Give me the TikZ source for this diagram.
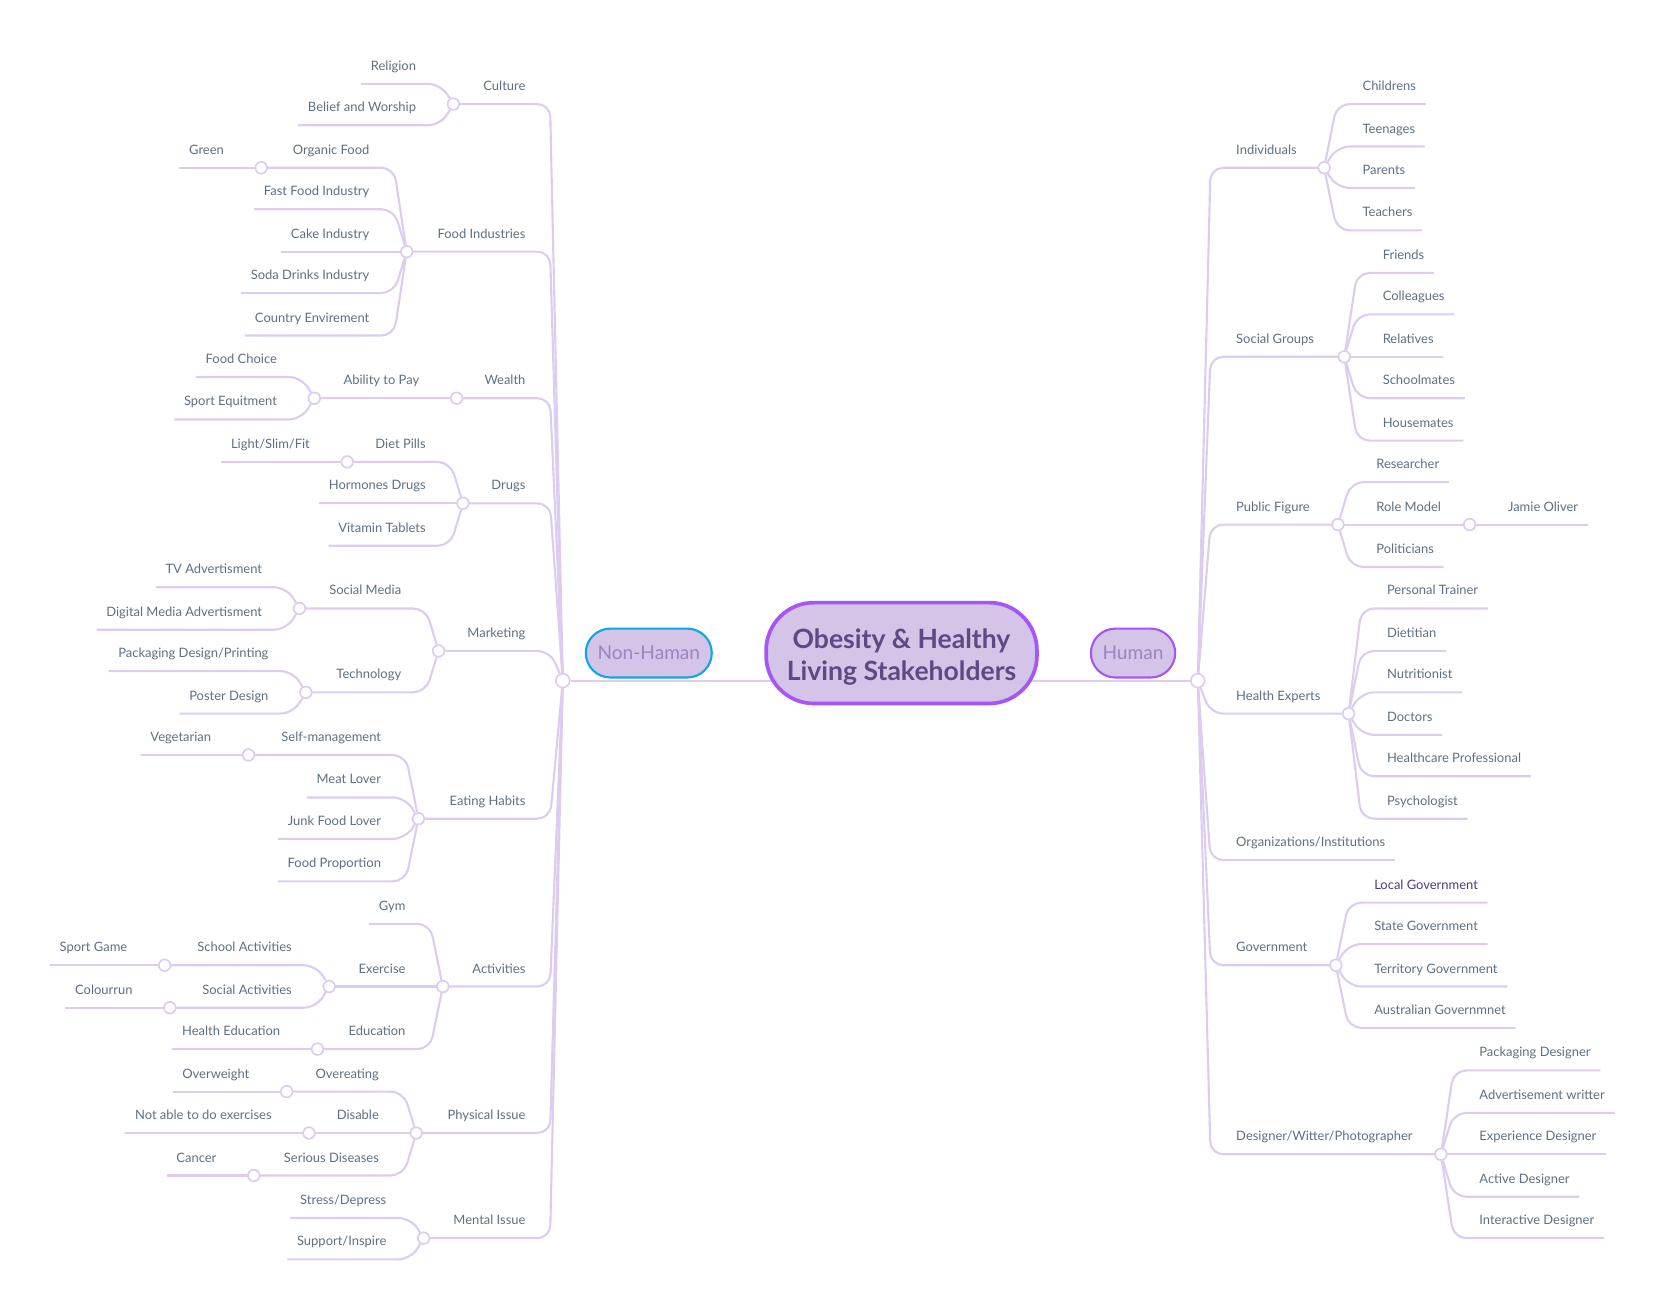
\documentclass[tikz,border=0pt]{standalone}
\usepackage{fontspec}
\setmainfont{Lato}
\usetikzlibrary{calc, backgrounds, positioning}
\definecolor{lav}{HTML}{DCCDF0}
\definecolor{txt}{HTML}{5F6F7F}
\definecolor{pillfill}{HTML}{D4C4E7}
\definecolor{purp}{HTML}{A855F7}
\definecolor{cyanb}{HTML}{0EA5E9}
\definecolor{pilltxt}{HTML}{9A86BC}
\definecolor{hubtxt}{HTML}{5B4A84}
\definecolor{localc}{HTML}{4E3A78}

\begin{document}
\begin{tikzpicture}[
  x=1pt, y=-1pt,
  lbl/.style={font=\fontsize{12.2}{15}\selectfont, text=txt, inner xsep=9pt, inner ysep=0pt,
              text height=9pt, text depth=12.5pt},
  ltx/.style={lbl, anchor=south east},
  rtx/.style={lbl, anchor=south west},
  dot/.style={circle, draw=lav, fill=white, line width=1.6pt, minimum size=11pt, inner sep=0pt},
  link/.style={draw=lav, line width=2pt},
  tol/.style={to path={let \p1=(\tikztostart), \p2=(\tikztotarget) in
              [rounded corners=12pt] -- (\x1-12pt,\y2) -- (\p2)}},
  tor/.style={to path={let \p1=(\tikztostart), \p2=(\tikztotarget) in
              [rounded corners=12pt] -- (\x1+12pt,\y2) -- (\p2)}},
  pill/.style={rectangle, rounded corners=23pt, minimum height=46pt, fill=pillfill, line width=2pt,
               font=\fontsize{18}{20}\selectfont, text=pilltxt, inner xsep=11pt},
  hub/.style={rectangle, rounded corners=45pt, minimum width=255pt, minimum height=95pt, fill=pillfill,
              draw=purp, line width=3.5pt, align=center, text=hubtxt, text height=56pt,
              font=\fontsize{25}{30}\selectfont\bfseries}
]
\useasboundingbox (0,0) rectangle (1568,1232);

% centre
\node[hub] (hub) at (849,615) {Obesity \& Healthy\\Living Stakeholders};
\node[pill, draw=cyanb] (nonh) at (611,615) {Non-Haman};
\node[pill, draw=purp] (hum) at (1067,615) {Human};
\node[dot, minimum size=13pt] (lj) at (530,641) {};
\node[dot, minimum size=13pt] (rj) at (1128,641) {};

% left: culture
\node[dot] (cul) at (427,98) {};
\node[ltx] (culT) at (504,98) {Culture};
\node[ltx] (rel) at (401,79) {Religion};
\node[ltx] (bel) at (401,118) {Belief and Worship};

% left: food industries
\node[dot] (food) at (383,237) {};
\node[ltx] (foodT) at (504,237) {Food Industries};
\node[dot] (orgf) at (246,158) {};
\node[ltx] (orgfT) at (357,158) {Organic Food};
\node[ltx] (grn) at (220,158) {Green};
\node[ltx] (fast) at (357,197) {Fast Food Industry};
\node[ltx] (cake) at (357,237) {Cake Industry};
\node[ltx] (soda) at (357,276) {Soda Drinks Industry};
\node[ltx] (ctry) at (357,316) {Country Envirement};

% left: wealth
\node[dot] (wlth) at (430,375) {};
\node[ltx] (wlthT) at (504,375) {Wealth};
\node[dot] (abil) at (296,375) {};
\node[ltx] (abilT) at (404,375) {Ability to Pay};
\node[ltx] (fch) at (270,355) {Food Choice};
\node[ltx] (speq) at (270,395) {Sport Equitment};

% left: drugs
\node[dot] (drug) at (436,474) {};
\node[ltx] (drugT) at (504,474) {Drugs};
\node[dot] (diet) at (327,435) {};
\node[ltx] (dietT) at (410,435) {Diet Pills};
\node[ltx] (lsf) at (301,435) {Light/Slim/Fit};
\node[ltx] (horm) at (410,474) {Hormones Drugs};
\node[ltx] (vit) at (410,514) {Vitamin Tablets};

% left: marketing
\node[dot] (mkt) at (413,613) {};
\node[ltx] (mktT) at (504,613) {Marketing};
\node[dot] (smed) at (282,573) {};
\node[ltx] (smedT) at (387,573) {Social Media};
\node[ltx] (tvad) at (256,553) {TV Advertisment};
\node[ltx] (dmad) at (256,593) {Digital Media Advertisment};
\node[dot] (tech) at (288,652) {};
\node[ltx] (techT) at (387,652) {Technology};
\node[ltx] (pkdp) at (262,632) {Packaging Design/Printing};
\node[ltx] (post) at (262,672) {Poster Design};

% left: eating habits
\node[dot] (eat) at (394,771) {};
\node[ltx] (eatT) at (504,771) {Eating Habits};
\node[dot] (self) at (234,711) {};
\node[ltx] (selfT) at (368,711) {Self-management};
\node[ltx] (veg) at (208,711) {Vegetarian};
\node[ltx] (meat) at (368,751) {Meat Lover};
\node[ltx] (junk) at (368,790) {Junk Food Lover};
\node[ltx] (fprop) at (368,830) {Food Proportion};

% left: activities
\node[dot] (act) at (417,929) {};
\node[ltx] (actT) at (504,929) {Activities};
\node[ltx] (gym) at (391,870) {Gym};
\node[dot] (exer) at (310,929) {};
\node[ltx] (exerT) at (391,929) {Exercise};
\node[dot] (schl) at (155,909) {};
\node[ltx] (schlT) at (284,909) {School Activities};
\node[ltx] (spg) at (129,909) {Sport Game};
\node[dot] (soca) at (160,949) {};
\node[ltx] (socaT) at (284,949) {Social Activities};
\node[ltx] (colr) at (134,949) {Colourrun};
\node[dot] (edu) at (299,988) {};
\node[ltx] (eduT) at (391,988) {Education};
\node[ltx] (hedu) at (273,988) {Health Education};

% left: physical issue
\node[dot] (phys) at (392,1067) {};
\node[ltx] (physT) at (504,1067) {Physical Issue};
\node[dot] (overe) at (270,1028) {};
\node[ltx] (overeT) at (366,1028) {Overeating};
\node[ltx] (overw) at (244,1028) {Overweight};
\node[dot] (dis) at (291,1067) {};
\node[ltx] (disT) at (366,1067) {Disable};
\node[ltx] (nabl) at (265,1067) {Not able to do exercises};
\node[dot] (ser) at (239,1107) {};
\node[ltx] (serT) at (366,1107) {Serious Diseases};
\node[ltx] (canc) at (213,1107) {Cancer};

% left: mental issue
\node[dot] (ment) at (399,1166) {};
\node[ltx] (mentT) at (504,1166) {Mental Issue};
\node[ltx] (strs) at (373,1147) {Stress/Depress};
\node[ltx] (supp) at (373,1186) {Support/Inspire};

% right: individuals
\node[dot] (ind) at (1247,158) {};
\node[rtx] (indT) at (1155,158) {Individuals};
\node[rtx] (chil) at (1274,98) {Childrens};
\node[rtx] (teen) at (1274,138) {Teenages};
\node[rtx] (par) at (1274,177) {Parents};
\node[rtx] (tchr) at (1274,217) {Teachers};

% right: social groups
\node[dot] (soc) at (1266,336) {};
\node[rtx] (socT) at (1155,336) {Social Groups};
\node[rtx] (frnd) at (1293,257) {Friends};
\node[rtx] (coll) at (1293,296) {Colleagues};
\node[rtx] (relv) at (1293,336) {Relatives};
\node[rtx] (schm) at (1293,375) {Schoolmates};
\node[rtx] (hsm) at (1293,415) {Housemates};

% right: public figure
\node[dot] (pub) at (1260,494) {};
\node[rtx] (pubT) at (1155,494) {Public Figure};
\node[rtx] (rsch) at (1287,454) {Researcher};
\node[dot] (role) at (1384,494) {};
\node[rtx] (roleT) at (1287,494) {Role Model};
\node[rtx] (jamie) at (1411,494) {Jamie Oliver};
\node[rtx] (polt) at (1287,534) {Politicians};

% right: health experts
\node[dot] (hexp) at (1270,672) {};
\node[rtx] (hexpT) at (1155,672) {Health Experts};
\node[rtx] (ptr) at (1297,573) {Personal Trainer};
\node[rtx] (dtn) at (1297,613) {Dietitian};
\node[rtx] (nutr) at (1297,652) {Nutritionist};
\node[rtx] (doc) at (1297,692) {Doctors};
\node[rtx] (hcp) at (1297,731) {Healthcare Professional};
\node[rtx] (psy) at (1297,771) {Psychologist};

% right: organizations
\node[rtx] (orgi) at (1155,810) {Organizations/Institutions};

% right: government
\node[dot] (gov) at (1258,909) {};
\node[rtx] (govT) at (1155,909) {Government};
\node[rtx, text=localc] (locg) at (1285,850) {Local Government};
\node[rtx] (stg) at (1285,889) {State Government};
\node[rtx] (terg) at (1285,929) {Territory Government};
\node[rtx] (ausg) at (1285,968) {Australian Governmnet};

% right: designers
\node[dot] (des) at (1357,1087) {};
\node[rtx] (desT) at (1155,1087) {Designer/Witter/Photographer};
\node[rtx] (pkd) at (1384,1008) {Packaging Designer};
\node[rtx] (advw) at (1384,1048) {Advertisement writter};
\node[rtx] (expd) at (1384,1087) {Experience Designer};
\node[rtx] (actd) at (1384,1127) {Active Designer};
\node[rtx] (intd) at (1384,1166) {Interactive Designer};

\begin{scope}[on background layer]
\draw[link] (lj) -- (hub.center |- lj);
\draw[link] (rj) -- (hub.center |- rj);
% left connectors
\draw[link,tol] (lj) to (cul);
\draw[link,tol] (cul) to (rel.south west);
\draw[link,tol] (cul) to (bel.south west);
\draw[link,tol] (lj) to (food);
\draw[link,tol] (food) to (orgf);
\draw[link,tol] (orgf) to (grn.south west);
\draw[link,tol] (food) to (fast.south west);
\draw[link,tol] (food) to (cake.south west);
\draw[link,tol] (food) to (soda.south west);
\draw[link,tol] (food) to (ctry.south west);
\draw[link,tol] (lj) to (wlth);
\draw[link,tol] (wlth) to (abil);
\draw[link,tol] (abil) to (fch.south west);
\draw[link,tol] (abil) to (speq.south west);
\draw[link,tol] (lj) to (drug);
\draw[link,tol] (drug) to (diet);
\draw[link,tol] (diet) to (lsf.south west);
\draw[link,tol] (drug) to (horm.south west);
\draw[link,tol] (drug) to (vit.south west);
\draw[link,tol] (lj) to (mkt);
\draw[link,tol] (mkt) to (smed);
\draw[link,tol] (smed) to (tvad.south west);
\draw[link,tol] (smed) to (dmad.south west);
\draw[link,tol] (mkt) to (tech);
\draw[link,tol] (tech) to (pkdp.south west);
\draw[link,tol] (tech) to (post.south west);
\draw[link,tol] (lj) to (eat);
\draw[link,tol] (eat) to (self);
\draw[link,tol] (self) to (veg.south west);
\draw[link,tol] (eat) to (meat.south west);
\draw[link,tol] (eat) to (junk.south west);
\draw[link,tol] (eat) to (fprop.south west);
\draw[link,tol] (lj) to (act);
\draw[link,tol] (act) to (gym.south west);
\draw[link,tol] (act) to (exer);
\draw[link,tol] (exer) to (schl);
\draw[link,tol] (schl) to (spg.south west);
\draw[link,tol] (exer) to (soca);
\draw[link,tol] (soca) to (colr.south west);
\draw[link,tol] (act) to (edu);
\draw[link,tol] (edu) to (hedu.south west);
\draw[link,tol] (lj) to (phys);
\draw[link,tol] (phys) to (overe);
\draw[link,tol] (overe) to (overw.south west);
\draw[link,tol] (phys) to (dis);
\draw[link,tol] (dis) to (nabl.south west);
\draw[link,tol] (phys) to (ser);
\draw[link,tol] (ser) to (canc.south west);
\draw[link,tol] (lj) to (ment);
\draw[link,tol] (ment) to (strs.south west);
\draw[link,tol] (ment) to (supp.south west);
% right connectors
\draw[link,tor] (rj) to (ind);
\draw[link,tor] (ind) to (chil.south east);
\draw[link,tor] (ind) to (teen.south east);
\draw[link,tor] (ind) to (par.south east);
\draw[link,tor] (ind) to (tchr.south east);
\draw[link,tor] (rj) to (soc);
\draw[link,tor] (soc) to (frnd.south east);
\draw[link,tor] (soc) to (coll.south east);
\draw[link,tor] (soc) to (relv.south east);
\draw[link,tor] (soc) to (schm.south east);
\draw[link,tor] (soc) to (hsm.south east);
\draw[link,tor] (rj) to (pub);
\draw[link,tor] (pub) to (rsch.south east);
\draw[link,tor] (pub) to (role);
\draw[link,tor] (role) to (jamie.south east);
\draw[link,tor] (pub) to (polt.south east);
\draw[link,tor] (rj) to (hexp);
\draw[link,tor] (hexp) to (ptr.south east);
\draw[link,tor] (hexp) to (dtn.south east);
\draw[link,tor] (hexp) to (nutr.south east);
\draw[link,tor] (hexp) to (doc.south east);
\draw[link,tor] (hexp) to (hcp.south east);
\draw[link,tor] (hexp) to (psy.south east);
\draw[link,tor] (rj) to (orgi.south east);
\draw[link,tor] (rj) to (gov);
\draw[link,tor] (gov) to (locg.south east);
\draw[link,tor] (gov) to (stg.south east);
\draw[link,tor] (gov) to (terg.south east);
\draw[link,tor] (gov) to (ausg.south east);
\draw[link,tor] (rj) to (des);
\draw[link,tor] (des) to (pkd.south east);
\draw[link,tor] (des) to (advw.south east);
\draw[link,tor] (des) to (expd.south east);
\draw[link,tor] (des) to (actd.south east);
\draw[link,tor] (des) to (intd.south east);
\end{scope}
\end{tikzpicture}
\end{document}
